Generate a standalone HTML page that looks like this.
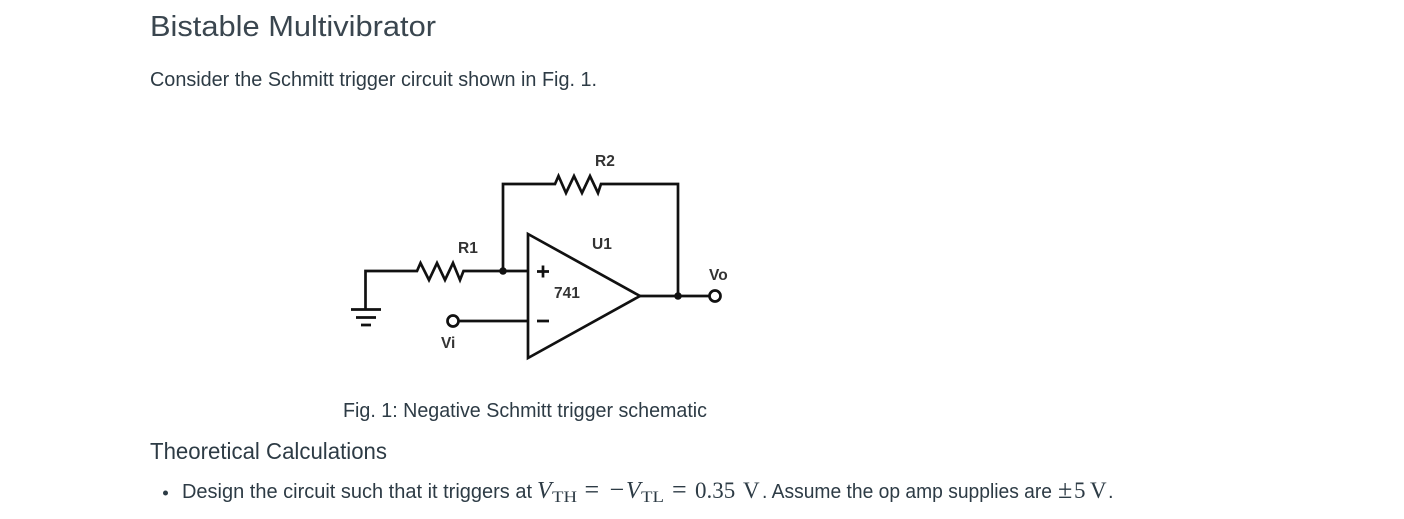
<!DOCTYPE html>
<html><head><meta charset="utf-8"><style>
html,body{margin:0;padding:0;background:#fff;width:1404px;height:519px;overflow:hidden}
svg{display:block}
.t{font-family:"Liberation Sans",sans-serif;fill:#2d3b45}
.l{font-family:"Liberation Sans",sans-serif;font-weight:bold;font-size:15.5px;fill:#333}
.m{font-family:"Liberation Serif",serif;fill:#2d3b45}
.w{fill:none;stroke:#111;stroke-width:2.7}
</style></head><body>
<svg width="1404" height="519" viewBox="0 0 1404 519" xmlns="http://www.w3.org/2000/svg">
<text class="t" x="150" y="36" font-size="29" textLength="286" lengthAdjust="spacingAndGlyphs" style="fill:#3a464f">Bistable Multivibrator</text>
<text class="t" x="150" y="86" font-size="20" textLength="447" lengthAdjust="spacingAndGlyphs">Consider the Schmitt trigger circuit shown in Fig. 1.</text>

<path class="w" d="M365.500 310V271H417L420.500 263L429 280L437 263L445 280L453 263L460 280L463.500 271H528"/>
<path class="w" d="M503 271V184H555L558.500 176L566 193L574 176L582 193L590 176L598 193L601 184H678V296"/>
<path class="w" d="M351 309.500H381M356 317.500H376M361 325H371"/>
<path class="w" d="M459 321H528"/>
<path class="w" d="M528 234L640 296L528 358Z"/>
<path class="w" d="M640 296H709"/>
<circle class="w" cx="453" cy="321" r="5.500"/>
<circle class="w" cx="715" cy="296" r="5.500"/>
<circle cx="503" cy="271" r="3.800" fill="#111"/>
<circle cx="678" cy="296" r="3.800" fill="#111"/>
<path class="w" d="M537 271.500H549M543 265.500V277.500M537 321H549"/>

<text class="l" x="458" y="253">R1</text>
<text class="l" x="595" y="166">R2</text>
<text class="l" x="592" y="249">U1</text>
<text class="l" x="554" y="298">741</text>
<text class="l" x="709" y="280">Vo</text>
<text class="l" x="441" y="348">Vi</text>

<text class="t" x="343" y="417" font-size="20" textLength="364" lengthAdjust="spacingAndGlyphs">Fig. 1: Negative Schmitt trigger schematic</text>
<text class="t" x="150" y="459" font-size="23" textLength="237" lengthAdjust="spacingAndGlyphs">Theoretical Calculations</text>

<circle cx="165.500" cy="493" r="2.500" fill="#2d3b45"/>
<text class="t" x="182" y="498" font-size="20" textLength="350" lengthAdjust="spacingAndGlyphs">Design the circuit such that it triggers at</text>
<text class="m" x="537" y="498" font-size="24" font-style="italic">V</text>
<text class="m" x="552" y="502" font-size="16" textLength="25" lengthAdjust="spacingAndGlyphs">TH</text>
<text class="m" x="584.500" y="498" font-size="26">=</text>
<text class="m" x="609.500" y="498" font-size="26">−</text>
<text class="m" x="626" y="498" font-size="24" font-style="italic">V</text>
<text class="m" x="641" y="502" font-size="16" textLength="23" lengthAdjust="spacingAndGlyphs">TL</text>
<text class="m" x="672" y="498" font-size="26">=</text>
<text class="m" x="695" y="498" font-size="23">0.35</text>
<text class="m" x="743" y="498" font-size="23">V</text>
<text class="t" x="762" y="498" font-size="20" textLength="290" lengthAdjust="spacingAndGlyphs">. Assume the op amp supplies are</text>
<text class="m" x="1058" y="498" font-size="26">±</text>
<text class="m" x="1074" y="498" font-size="23">5</text>
<text class="m" x="1090" y="498" font-size="23">V</text>
<text class="t" x="1108" y="498" font-size="20">.</text>
</svg>
</body></html>
